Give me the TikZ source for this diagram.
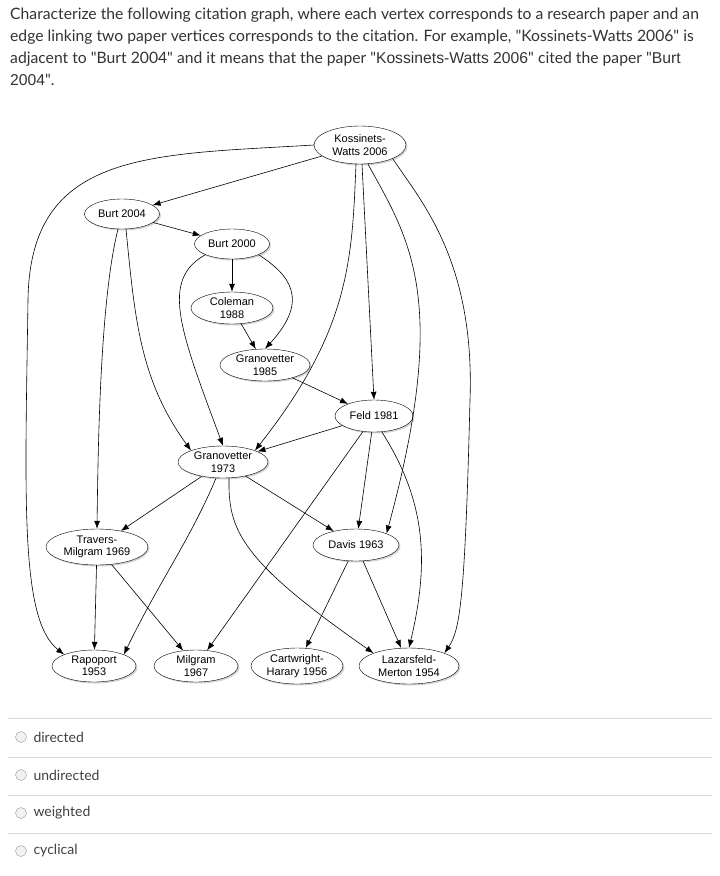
\documentclass[tikz,border=0pt]{standalone}
\usepackage{fontspec}
\setmainfont{Lato}
\newfontfamily\nodefont{Liberation Sans}
\usetikzlibrary{shapes.geometric,shadows,arrows.meta}
\newcommand\qq{\textquotedbl}
\begin{document}
\begin{tikzpicture}[x=1pt,y=-1pt,
  pap/.style={ellipse,draw,fill=white,inner sep=0pt,font=\nodefont\fontsize{11}{12.5}\selectfont,align=center,drop shadow={shadow xshift=1.5pt,shadow yshift=-1.5pt,opacity=0.35}},
  e/.style={-{Latex[length=8pt,width=6pt]},line width=0.6pt},
  opt/.style={anchor=west,font=\fontsize{14}{16}\selectfont,text=black!75},
  radio/.style={circle,draw=black!40,fill=black!5,minimum size=11pt,inner sep=0pt}]
\useasboundingbox (0,0) rectangle (720,876);
\node[anchor=north west,align=left,font=\fontsize{15.7}{22}\selectfont,text=black!80,inner sep=0pt] (q) at (10,8)
{Characterize the following citation graph, where each vertex corresponds to a research paper and an\\
edge linking two paper vertices corresponds to the citation. For example, \qq Kossinets-Watts 2006\qq{} is\\
adjacent to \qq Burt 2004\qq{} and it means that the paper \qq{\nodefont Kossinets-Watts 2006}\qq{} cited the paper \qq{\nodefont Burt}\\
{\nodefont 2004}\qq.};
\node[pap,minimum width=92,minimum height=38] (kw) at (360,145) {Kossinets-\\Watts 2006};
\node[pap,minimum width=75,minimum height=30] (b4) at (122,214) {Burt 2004};
\node[pap,minimum width=75,minimum height=30] (b0) at (232,244) {Burt 2000};
\node[pap,minimum width=82,minimum height=32] (co) at (232,308) {Coleman\\1988};
\node[pap,minimum width=90,minimum height=32] (g85) at (265,365) {Granovetter\\1985};
\node[pap,minimum width=78,minimum height=32] (fe) at (374,416) {Feld 1981};
\node[pap,minimum width=90,minimum height=32] (g73) at (223,462) {Granovetter\\1973};
\node[pap,minimum width=102,minimum height=36] (tm) at (97,547) {Travers-\\Milgram 1969};
\node[pap,minimum width=86,minimum height=32] (da) at (356,545) {Davis 1963};
\node[pap,minimum width=84,minimum height=32] (ra) at (94,666) {Rapoport\\1953};
\node[pap,minimum width=84,minimum height=32] (mi) at (196,666) {Milgram\\1967};
\node[pap,minimum width=92,minimum height=36] (ch) at (297,666) {Cartwright-\\Harary 1956};
\node[pap,minimum width=100,minimum height=36] (lm) at (409,666) {Lazarsfeld-\\Merton 1954};
% edges
\draw[e] (kw) -- (b4);
\draw[e] (kw.west) .. controls (150,155) and (30,150) .. (28,300) .. controls (25,500) and (20,620) .. (ra.north west);
\draw[e] (kw.south) ++(-4,0) .. controls (352,260) and (350,330) .. (g73.north east);
\draw[e] (kw.south) ++(2,0) -- (fe.north);
\draw[e] (kw.south) ++(8,0) .. controls (410,240) and (450,300) .. (da.north east);
\draw[e] (kw.south east) .. controls (420,200) and (475,260) .. (470,400) .. controls (465,600) and (460,630) .. (lm.north east);
\draw[e] (b4) -- (b0);
\draw[e] (b4.south) ++(-4,0) .. controls (100,300) and (98,450) .. (tm.north);
\draw[e] (b4.south) ++(4,0) .. controls (135,320) and (140,380) .. (g73.north west);
\draw[e] (b0) -- (co);
\draw[e] (b0.south east) .. controls (290,275) and (310,300) .. (g85.north);
\draw[e] (b0.south west) .. controls (160,280) and (180,330) .. (g73.north);
\draw[e] (co) -- (g85);
\draw[e] (g85) -- (fe);
\draw[e] (fe) -- (g73);
\draw[e] (fe) -- (mi);
\draw[e] (fe) -- (da);
\draw[e] (fe.south) ++(8,0) .. controls (425,500) and (430,560) .. (lm.north);
\draw[e] (g73) -- (tm);
\draw[e] (g73.south) ++(-7,0) .. controls (190,540) and (160,580) .. (ra.north east);
\draw[e] (g73) -- (da);
\draw[e] (g73.south) ++(6,0) .. controls (228,530) and (240,560) .. (lm.north west);
\draw[e] (tm) -- (ra);
\draw[e] (tm) -- (mi);
\draw[e] (da) -- (ch);
\draw[e] (da) -- (lm);
% options
\foreach \y/\t/\n in {737/directed/a,775/undirected/b,813/weighted/c,851/cyclical/d}{
  \node[radio] (r\n) at (21,\y) {};
  \node[opt] (o\n) at (30,\y) {\t};
}
\foreach \y in {718,757,795,833}{\draw[black!15] (8,\y) -- (712,\y);}
\end{tikzpicture}
\end{document}
